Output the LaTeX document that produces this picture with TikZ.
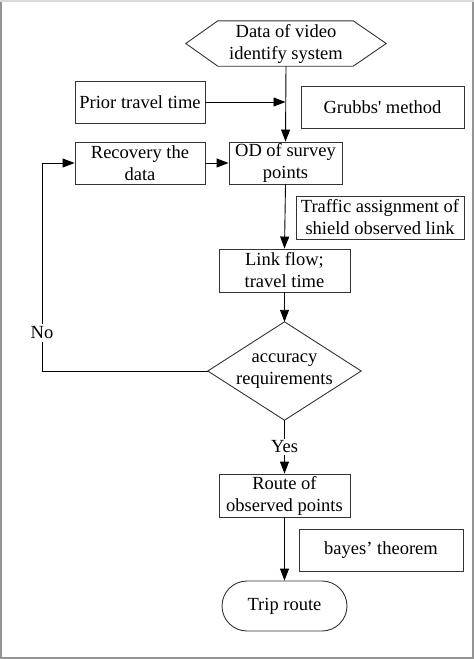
\documentclass[tikz,border=0pt]{standalone}
\usepackage{fontspec}
\setmainfont{Liberation Serif}
\usetikzlibrary{arrows.meta,calc}
\newcommand{\straightq}{\XeTeXglyph\XeTeXcharglyph"0027\relax}
\begin{document}
\begin{tikzpicture}[x=1pt,y=-1pt,
  every node/.style={font=\fontsize{18.5}{22}\selectfont, align=center, inner sep=0pt},
  box/.style={draw=black!80, line width=0.9pt, minimum width=#1},
  arr/.style={line width=0.9pt, -{Triangle[length=12pt,width=9pt]}},
  ln/.style={line width=0.9pt}]
\useasboundingbox (0,0) rectangle (474,659);
% frame
\fill[black!42] (0,0) rectangle (2,659);
\fill[black!42] (471.5,0) rectangle (474,659);
\fill[black!42] (0,656.5) rectangle (474,659);
\fill[black!15] (0,0) rectangle (474,2);
% nodes
\node[minimum width=200pt, minimum height=45pt] (hex) at (286,43.5) {Data of video\\identify system};
\draw[draw=black!80, line width=0.9pt] (hex.west) -- ($(hex.north west)+(32,0)$) -- ($(hex.north east)+(-33,0)$) -- (hex.east) -- ($(hex.south east)+(-33,0)$) -- ($(hex.south west)+(32,0)$) -- cycle;
\node[box=130pt, minimum height=42pt] (prior) at (140,102) {Prior travel time};
\node[box=163pt, minimum height=42pt] (grubbs) at (382.5,107) {Grubbs\straightq{} method};
\node[box=130pt, minimum height=42pt] (rec) at (140,163) {Recovery the\\data};
\node[box=113pt, minimum height=42pt] (od) at (285.5,163) {OD of survey\\points};
\node[box=168pt, minimum height=43pt] (traffic) at (380,217.5) {Traffic assignment of\\shield observed link};
\node[box=131pt, minimum height=43pt] (link) at (284.5,270.5) {Link flow;\\travel time};
\node[minimum width=153pt, minimum height=98pt] (dec) at (284.5,371) {accuracy\\requirements};
\draw[draw=black!80, line width=0.9pt] (dec.west) -- (dec.north) -- (dec.east) -- (dec.south) -- cycle;
\node[box=131pt, minimum height=43pt] (route) at (284.5,495.5) {Route of\\observed points};
\node[box=164pt, minimum height=42pt] (bayes) at (381,550) {bayes’ theorem};
\node[draw=black!80, line width=0.9pt, minimum width=125pt, minimum height=50pt, rounded corners=25pt] (trip) at (284.5,606) {Trip route};
% connectors
\draw[arr] (hex.south) -- (od.north);
\draw[arr] (prior.east) -- (prior.east -| od.north);
\draw[arr] (rec.east) -- (od.west);
\draw[arr] (od.south) -- (link.north);
\draw[arr] (link.south) -- (dec.north);
\coordinate (lc) at (42,371);
\draw[arr] (dec.west) -- (lc) |- (rec.west);
\node[fill=white, inner ysep=3pt] (no) at (42,333) {No};
\draw[arr] (dec.south) -- (route.north);
\node[fill=white, inner ysep=2pt] (yes) at (284.5,447) {Yes};
\draw[arr] (route.south) -- (trip.north);
\end{tikzpicture}
\end{document}
